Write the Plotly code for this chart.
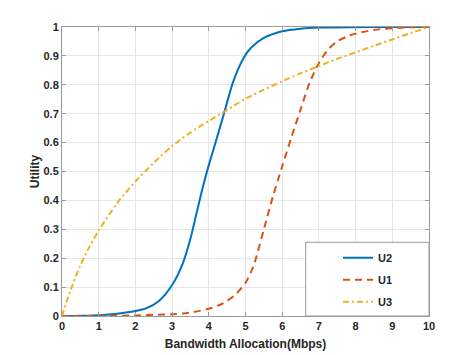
import plotly.graph_objects as go

# ---- data ----
x_u2 = [0, 0.5, 1, 1.5, 2, 2.3, 2.65, 3, 3.3, 3.5, 3.67, 3.85, 4, 4.2, 4.43, 4.67, 4.95, 5.15, 5.5, 6, 6.5, 7, 8, 9, 10]
u2 = [0, 0.001, 0.003, 0.008, 0.017, 0.027, 0.053, 0.107, 0.185, 0.268, 0.358, 0.452, 0.522, 0.607, 0.708, 0.813, 0.893, 0.928, 0.962, 0.985, 0.994, 0.998, 0.9995, 1.0, 1.0]

x_u1 = [0, 1, 2, 2.5, 3, 3.5, 4, 4.25, 4.5, 4.75, 5, 5.15, 5.25, 5.5, 5.75, 6, 6.25, 6.5, 6.75, 7, 7.25, 7.5, 7.75, 8, 8.5, 9, 9.5, 10]
u1 = [0, 0.0005, 0.002, 0.004, 0.006, 0.012, 0.025, 0.036, 0.052, 0.077, 0.115, 0.152, 0.185, 0.3, 0.415, 0.518, 0.618, 0.714, 0.808, 0.875, 0.922, 0.95, 0.966, 0.977, 0.99, 0.996, 0.999, 1.0]

x_u3 = [0, 0.25, 0.5, 0.75, 1, 1.5, 2, 2.5, 3, 3.5, 4, 4.5, 5, 5.5, 6, 6.5, 7, 7.5, 8, 8.5, 9, 9.5, 10]
u3 = [0, 0.095, 0.175, 0.24, 0.295, 0.39, 0.465, 0.53, 0.588, 0.635, 0.675, 0.713, 0.752, 0.783, 0.812, 0.84, 0.865, 0.89, 0.912, 0.935, 0.957, 0.979, 1.0]

x_ticks = [0, 1, 2, 3, 4, 5, 6, 7, 8, 9, 10]
y_ticks = [0, 0.1, 0.2, 0.3, 0.4, 0.5, 0.6, 0.7, 0.8, 0.9, 1]
y_tick_labels = ["0", "0.1", "0.2", "0.3", "0.4", "0.5", "0.6", "0.7", "0.8", "0.9", "1"]

BLUE = "#0072BD"
RED = "#D95319"
YELLOW = "#EDB120"

fig = go.Figure()
fig.add_trace(go.Scatter(x=x_u2, y=u2, name="U2", mode="lines", legendgroup="a",
                         line=dict(color=BLUE, width=2, shape="spline", smoothing=0.8)))
fig.add_trace(go.Scatter(x=x_u1, y=u1, name="U1", mode="lines", legendgroup="b",
                         line=dict(color=RED, width=2, dash="7px,5px", shape="spline", smoothing=0.8)))
fig.add_trace(go.Scatter(x=x_u3, y=u3, name="U3", mode="lines", legendgroup="c",
                         line=dict(color=YELLOW, width=2, dash="6px,3px,2px,3px", shape="spline", smoothing=0.8)))

tickfont = dict(family="Liberation Sans, Arial, sans-serif", size=11, color="#262626", weight="bold")
titlefont = dict(family="Liberation Sans, Arial, sans-serif", size=12, color="#262626", weight="bold")

axis_common = dict(
    showgrid=True, gridcolor="#E6E6E6", gridwidth=1,
    showline=True, linecolor="#9a9a9a", linewidth=1, mirror="ticks",
    ticks="inside", ticklen=4, tickcolor="#9a9a9a",
    zeroline=False, tickfont=tickfont, automargin=False,
)

fig.update_xaxes(range=[0, 10], tickvals=x_ticks,
                 title=dict(text="Bandwidth Allocation(Mbps)", font=titlefont, standoff=8),
                 **axis_common)
fig.update_yaxes(range=[0, 1], tickvals=y_ticks, ticktext=y_tick_labels,
                 title=dict(text="Utility", font=titlefont, standoff=1),
                 **axis_common)

# legend box (drawn as a shape so it matches the reference size)
fig.add_shape(type="rect", xref="paper", yref="paper", x0=0.664, x1=1.0, y0=0.0, y1=0.255,
              line=dict(color="#9a9a9a", width=1), fillcolor="white", layer="above")

fig.update_layout(
    width=474, height=355,
    margin=dict(l=62, r=45, t=27, b=39),
    paper_bgcolor="white", plot_bgcolor="white",
    font=dict(family="Liberation Sans, Arial, sans-serif"),
    legend=dict(x=0.752, y=0.252, xanchor="left", yanchor="top",
                bgcolor="rgba(0,0,0,0)", borderwidth=0,
                traceorder="grouped", tracegroupgap=3,
                font=dict(family="Liberation Sans, Arial, sans-serif", size=11, color="#262626", weight="bold")),
)

fig.write_html("out.html", post_script="document.body.style.margin='0';",
               config={"displayModeBar": False})
